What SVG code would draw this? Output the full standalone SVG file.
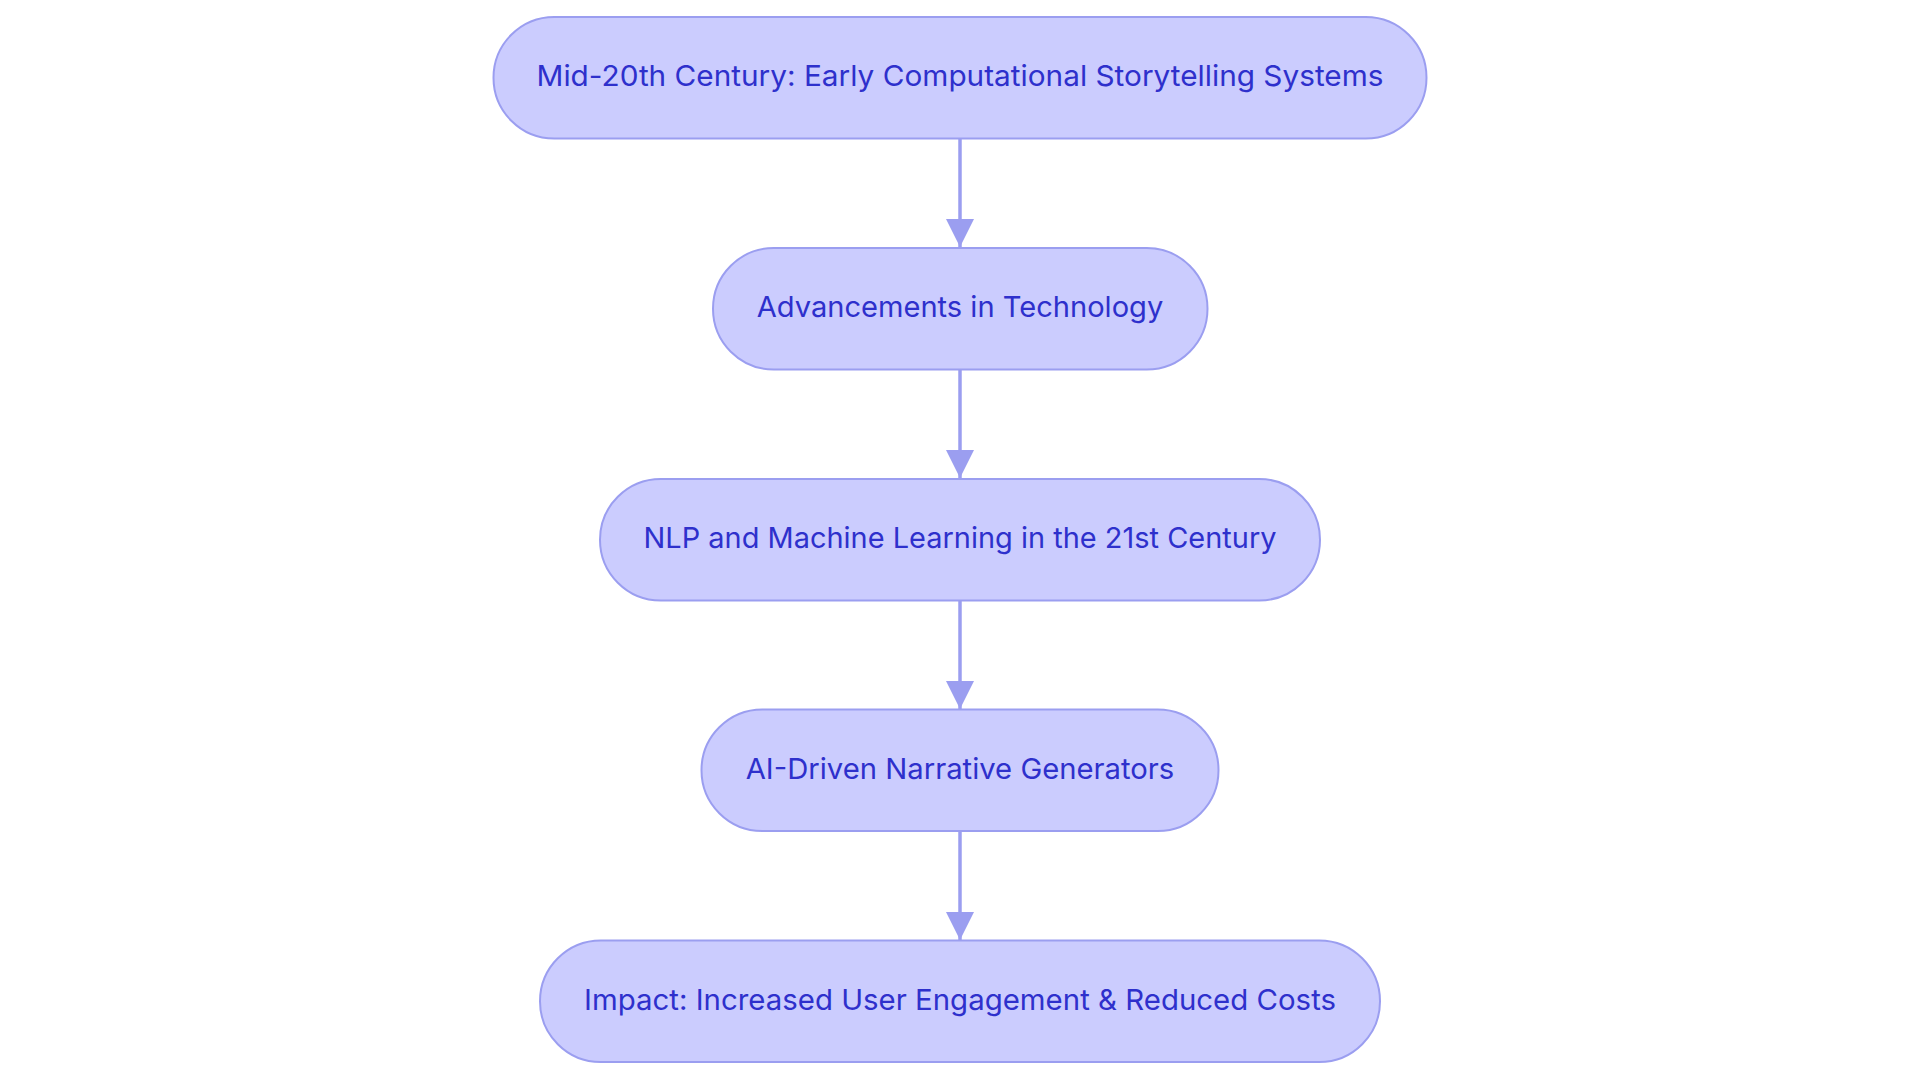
<svg xmlns="http://www.w3.org/2000/svg" width="1920" height="1083" viewBox="0 0 1920 1083">
<style>
.node rect{fill:#CBCCFE;stroke:#9B9EF0;stroke-width:2}
.node text{font-family:Inter,"Noto Sans",sans-serif;font-size:29px;font-weight:400;fill:#2E30CC;text-anchor:middle}
.edge{stroke:#9B9EF0;stroke-width:3.5;fill:none}
</style>
<defs>
<marker id="arr" markerUnits="userSpaceOnUse" markerWidth="28" markerHeight="28" refX="28" refY="14" orient="auto">
<path d="M0,0 L28,14 L0,28 Z" fill="#9B9EF0"/>
</marker>
</defs>
<rect width="1920" height="1083" fill="#ffffff"/>
<g id="connectors">
<line class="edge" x1="960" y1="139" x2="960" y2="247" marker-end="url(#arr)"/>
<line class="edge" x1="960" y1="370" x2="960" y2="478" marker-end="url(#arr)"/>
<line class="edge" x1="960" y1="600" x2="960" y2="709" marker-end="url(#arr)"/>
<line class="edge" x1="960" y1="831" x2="960" y2="940" marker-end="url(#arr)"/>
</g>
<g id="n1" class="node">
<rect x="493.5" y="17" width="933" height="121.5" rx="60.75"/>
<text x="960" y="86" textLength="847" lengthAdjust="spacingAndGlyphs">Mid-20th Century: Early Computational Storytelling Systems</text>
</g>
<g id="n2" class="node">
<rect x="713" y="248" width="494.5" height="121.5" rx="60.75"/>
<text x="960" y="317" textLength="406.5" lengthAdjust="spacingAndGlyphs">Advancements in Technology</text>
</g>
<g id="n3" class="node">
<rect x="600" y="479" width="720" height="121.5" rx="60.75"/>
<text x="960" y="548" textLength="633" lengthAdjust="spacingAndGlyphs">NLP and Machine Learning in the 21st Century</text>
</g>
<g id="n4" class="node">
<rect x="701.5" y="709.5" width="517" height="121.5" rx="60.75"/>
<text x="960" y="778.5" textLength="428.6" lengthAdjust="spacingAndGlyphs">AI-Driven Narrative Generators</text>
</g>
<g id="n5" class="node">
<rect x="540" y="940.5" width="840" height="121.5" rx="60.75"/>
<text x="960" y="1009.5" textLength="752" lengthAdjust="spacingAndGlyphs">Impact: Increased User Engagement &amp; Reduced Costs</text>
</g>
</svg>
